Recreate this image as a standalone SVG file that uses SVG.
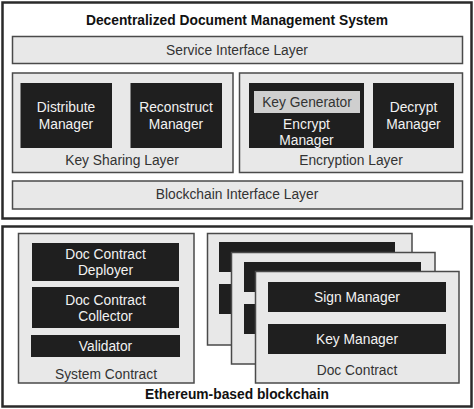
<svg xmlns="http://www.w3.org/2000/svg" width="474" height="409" viewBox="0 0 474 409">
<style>
.outer{fill:#fff;stroke:#2a2a2a;stroke-width:2.5}
.layer{fill:#e8e8e8;stroke:#4a4a4a;stroke-width:1.5}
.blk{fill:#1f1f1f;stroke:none}
.kg{fill:#cfcfcf;stroke:none}
text{font-family:"Liberation Sans",Arial,sans-serif;font-size:13.8px;text-anchor:middle}
.w{fill:#f2f2f2}
.g{fill:#333}
.b{font-weight:bold;fill:#111;font-size:13.8px}
</style>
<g id="dms">
<rect class="outer" x="2.5" y="2.5" width="469" height="216"/>
<text class="b" x="237" y="25">Decentralized Document Management System</text>
</g>
<g id="service-interface-layer">
<rect class="layer" x="12.5" y="36.5" width="450" height="27"/>
<text class="g" x="237" y="55">Service Interface Layer</text>
</g>
<g id="key-sharing-layer">
<rect class="layer" x="12.5" y="73" width="220.5" height="99.5"/>
<text class="g" x="122" y="165">Key Sharing Layer</text>
</g>
<g id="distribute-manager">
<rect class="blk" x="20.5" y="83" width="91.5" height="65"/>
<text class="w" x="66" y="112">Distribute</text>
<text class="w" x="66" y="129">Manager</text>
</g>
<g id="reconstruct-manager">
<rect class="blk" x="130.5" y="83" width="91.5" height="65"/>
<text class="w" x="176" y="112">Reconstruct</text>
<text class="w" x="176" y="129">Manager</text>
</g>
<g id="encryption-layer">
<rect class="layer" x="239.5" y="73" width="223" height="99.5"/>
<text class="g" x="351" y="165">Encryption Layer</text>
</g>
<g id="encrypt-manager">
<rect class="blk" x="249" y="83" width="115" height="65"/>
<text class="w" x="306.5" y="129">Encrypt</text>
<text class="w" x="306.5" y="145">Manager</text>
</g>
<g id="key-generator">
<rect class="kg" x="254" y="91" width="106" height="22"/>
<text class="g" x="307" y="107">Key Generator</text>
</g>
<g id="decrypt-manager">
<rect class="blk" x="373" y="83" width="81" height="65"/>
<text class="w" x="413.5" y="112">Decrypt</text>
<text class="w" x="413.5" y="129">Manager</text>
</g>
<g id="blockchain-interface-layer">
<rect class="layer" x="12.5" y="181" width="450" height="28"/>
<text class="g" x="237" y="199">Blockchain Interface Layer</text>
</g>
<g id="ethereum">
<rect class="outer" x="2.5" y="226.5" width="469" height="180"/>
<text class="b" x="237" y="399">Ethereum-based blockchain</text>
</g>
<g id="system-contract">
<rect class="layer" x="18.5" y="233.5" width="175.5" height="149.5"/>
<text class="g" x="106" y="379">System Contract</text>
</g>
<g id="doc-contract-deployer">
<rect class="blk" x="32" y="243" width="147" height="38"/>
<text class="w" x="105.5" y="259">Doc Contract</text>
<text class="w" x="105.5" y="275">Deployer</text>
</g>
<g id="doc-contract-collector">
<rect class="blk" x="32" y="287" width="147" height="41"/>
<text class="w" x="105.5" y="305">Doc Contract</text>
<text class="w" x="105.5" y="321">Collector</text>
</g>
<g id="validator">
<rect class="blk" x="31" y="335" width="149" height="22"/>
<text class="w" x="105.5" y="351">Validator</text>
</g>
<g id="doc-contract-3">
<rect class="layer" x="207.5" y="233.5" width="204.5" height="111.5"/>
<rect class="blk" x="219" y="242" width="176" height="30"/>
<rect class="blk" x="219" y="284" width="176" height="30"/>
</g>
<g id="doc-contract-2">
<rect class="layer" x="231.5" y="252.5" width="203.5" height="111.5"/>
<rect class="blk" x="244" y="262" width="177" height="30"/>
<rect class="blk" x="244" y="304" width="177" height="30"/>
</g>
<g id="doc-contract">
<rect class="layer" x="255.5" y="271.5" width="203.5" height="111.5"/>
<text class="g" x="357" y="375">Doc Contract</text>
</g>
<g id="sign-manager">
<rect class="blk" x="268" y="282" width="178" height="30"/>
<text class="w" x="357" y="302">Sign Manager</text>
</g>
<g id="key-manager">
<rect class="blk" x="268" y="324" width="178" height="30"/>
<text class="w" x="357" y="344">Key Manager</text>
</g>
<g id="connectors"></g>
</svg>
